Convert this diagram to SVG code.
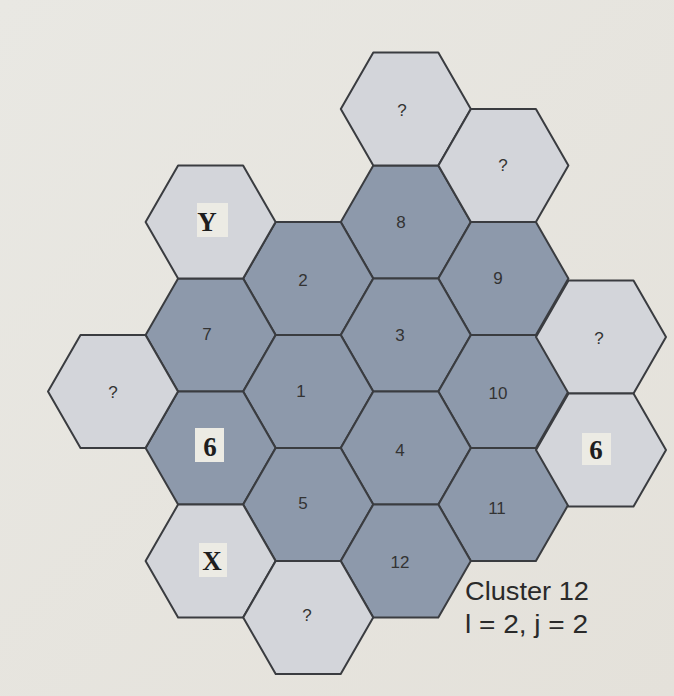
<svg xmlns="http://www.w3.org/2000/svg" xmlns:xlink="http://www.w3.org/1999/xlink" width="674" height="696" viewBox="0 0 674 696">
<defs>
<linearGradient id="bg" x1="0" y1="0" x2="1" y2="1">
<stop offset="0" stop-color="#e9e8e3"/>
<stop offset="1" stop-color="#e4e1da"/>
</linearGradient>
<polygon id="hex" points="-65,0 -32.5,-56.5 32.5,-56.5 65,0 32.5,56.5 -32.5,56.5"/>
</defs>
<style>
.light{fill:#d3d5da;stroke:#3a3c40;stroke-width:2;stroke-linejoin:round}
.dark{fill:#8d99ab;stroke:#3a3c40;stroke-width:2;stroke-linejoin:round}
.lbl{font-family:"Liberation Sans",Arial,sans-serif;font-size:17px;fill:#333;text-anchor:middle}
.big{font-family:"Liberation Serif","Times New Roman",serif;font-weight:bold;font-size:27px;fill:#1e1e1e;text-anchor:middle}
.box{fill:#ecebe4}
.cap{font-family:"Liberation Sans",Arial,sans-serif;font-size:26px;fill:#2a2a2a}
</style>
<rect width="674" height="696" fill="url(#bg)"/>
<g id="hex-8"><use xlink:href="#hex" x="405.8" y="222" class="dark"/><text class="lbl" x="401" y="228">8</text></g>
<g id="hex-2"><use xlink:href="#hex" x="308.2" y="278.5" class="dark"/><text class="lbl" x="303" y="286">2</text></g>
<g id="hex-9"><use xlink:href="#hex" x="503.4" y="278.5" class="dark"/><text class="lbl" x="498" y="284">9</text></g>
<g id="hex-7"><use xlink:href="#hex" x="210.6" y="335" class="dark"/><text class="lbl" x="207" y="340">7</text></g>
<g id="hex-3"><use xlink:href="#hex" x="405.8" y="335" class="dark"/><text class="lbl" x="400" y="341">3</text></g>
<g id="hex-1"><use xlink:href="#hex" x="308.2" y="391.5" class="dark"/><text class="lbl" x="301" y="397">1</text></g>
<g id="hex-10"><use xlink:href="#hex" x="503.4" y="391.5" class="dark"/><text class="lbl" x="498" y="399">10</text></g>
<g id="hex-6a"><use xlink:href="#hex" x="210.6" y="448" class="dark"/><rect class="box" x="195" y="428" width="29" height="34"/><text class="big" x="210" y="456">6</text></g>
<g id="hex-4"><use xlink:href="#hex" x="405.8" y="448" class="dark"/><text class="lbl" x="400" y="456">4</text></g>
<g id="hex-5"><use xlink:href="#hex" x="308.2" y="504.5" class="dark"/><text class="lbl" x="303" y="509">5</text></g>
<g id="hex-11"><use xlink:href="#hex" x="503.4" y="504.5" class="dark"/><text class="lbl" x="497" y="514">11</text></g>
<g id="hex-12"><use xlink:href="#hex" x="405.8" y="561" class="dark"/><text class="lbl" x="400" y="568">12</text></g>
<g id="hex-q-top"><use xlink:href="#hex" x="405.8" y="109" class="light"/><text class="lbl" x="402" y="116">?</text></g>
<g id="hex-q-top2"><use xlink:href="#hex" x="503.4" y="165.5" class="light"/><text class="lbl" x="503" y="171">?</text></g>
<g id="hex-Y"><use xlink:href="#hex" x="210.6" y="222" class="light"/><rect class="box" x="197" y="203" width="31" height="34"/><text class="big" x="207" y="231">Y</text></g>
<g id="hex-q-left"><use xlink:href="#hex" x="113" y="391.5" class="light"/><text class="lbl" x="113" y="398">?</text></g>
<g id="hex-X"><use xlink:href="#hex" x="210.6" y="561" class="light"/><rect class="box" x="199" y="543" width="28" height="34"/><text class="big" x="212" y="570">X</text></g>
<g id="hex-q-bottom"><use xlink:href="#hex" x="308.2" y="617.5" class="light"/><text class="lbl" x="307" y="621">?</text></g>
<g id="hex-q-right"><use xlink:href="#hex" x="601" y="337" class="light"/><text class="lbl" x="599" y="344">?</text></g>
<g id="hex-6b"><use xlink:href="#hex" x="601" y="450" class="light"/><rect class="box" x="582" y="433" width="29" height="32"/><text class="big" x="596" y="459">6</text></g>
<g id="caption">
<text class="cap" x="465" y="600" textLength="124" lengthAdjust="spacingAndGlyphs">Cluster 12</text>
<text class="cap" x="465" y="633" textLength="123" lengthAdjust="spacingAndGlyphs">l = 2, j = 2</text>
</g>
<g id="connectors"/>
</svg>
